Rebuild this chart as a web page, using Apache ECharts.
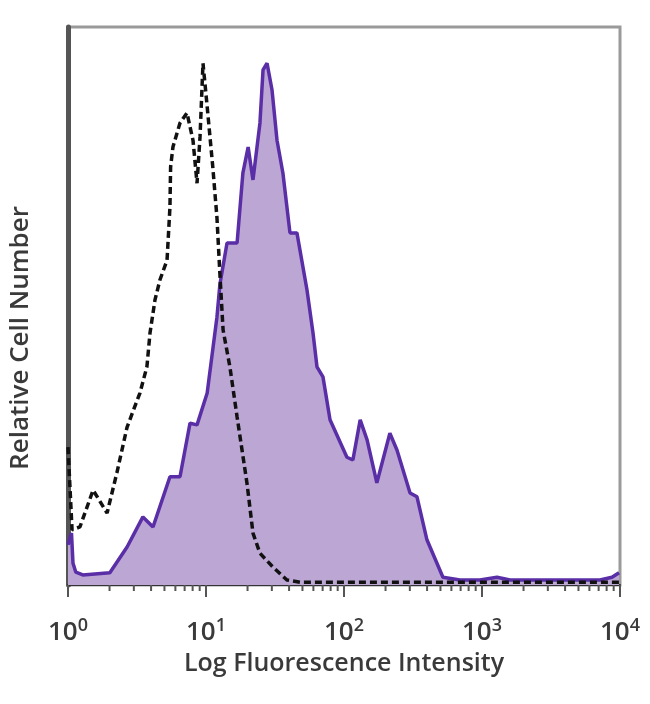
<!DOCTYPE html>
<html>
<head>
<meta charset="utf-8">
<script src="https://cdn.jsdelivr.net/npm/echarts@6/dist/echarts.min.js"></script>
<style>
html,body{margin:0;padding:0;background:#fff;}
#chart{width:650px;height:704px;}
</style>
</head>
<body>
<div id="chart"></div>
<script>
// Stained sample (purple filled histogram): [intensity, relative count]
const stainedX = [1.0, 1.06, 1.087, 1.14, 1.28, 2.01, 2.68, 3.49, 4.13, 5.48, 6.48, 7.66, 8.61, 10.2, 12.0, 12.6, 14.2, 16.8, 18.5, 20.2, 21.9, 24.6, 25.9, 27.7, 30.1, 32.7, 36.1, 40.6, 45.6, 53.9, 59.6, 63.7, 70.4, 79.2, 105, 116, 131, 147, 173, 215, 242, 301, 338, 399, 521, 693, 967, 1284, 1596, 7160, 8750, 9840];
const stainedY = [7.2, 9.3, 3.9, 2.3, 1.8, 2.2, 6.8, 12.2, 10.4, 19.4, 19.4, 29.0, 28.7, 34.4, 48.0, 53.8, 61.3, 61.3, 73.8, 78.5, 72.6, 82.8, 92.3, 93.5, 88.7, 79.7, 73.8, 63.1, 63.1, 52.9, 45.2, 39.1, 37.3, 29.6, 22.9, 22.4, 29.6, 26.0, 18.3, 27.2, 24.2, 16.5, 15.8, 8.1, 1.4, 0.9, 0.9, 1.4, 0.9, 0.9, 1.4, 2.2];
// Isotype control (dashed histogram)
const controlX = [1.0, 1.07, 1.22, 1.52, 1.92, 2.26, 2.68, 3.32, 3.73, 3.93, 4.27, 4.64, 5.22, 5.48, 5.54, 5.76, 6.48, 7.28, 8.05, 8.61, 9.05, 9.51, 10.2, 11.2, 12.0, 12.6, 13.3, 14.9, 16.8, 19.8, 21.9, 24.6, 30.6, 38.6, 48, 10000];
const controlY = [24.7, 9.9, 10.4, 17.0, 12.9, 20.1, 28.3, 34.4, 39.1, 45.2, 51.1, 54.7, 58.2, 67.7, 74.9, 78.5, 82.8, 84.6, 79.7, 72.0, 80.3, 93.5, 85.7, 74.9, 65.9, 55.9, 45.7, 39.1, 30.1, 18.3, 9.3, 5.7, 3.2, 0.9, 0.5, 0.5];
// Axis ticks
const decadeTicks = [1, 10, 100, 1000, 10000];
const minorTickMult = [2, 3, 4, 5, 6, 7, 8, 9];
const xAxisName = 'Log Fluorescence Intensity';
const yAxisName = 'Relative Cell Number';

const minorTicks = [];
for (let d = 0; d < decadeTicks.length - 1; d++) {
  minorTickMult.forEach(m => minorTicks.push([m * decadeTicks[d], 0]));
}
const zip = (xs, ys) => xs.map((x, i) => [x, ys[i]]);
const FONT = '"Open Sans"';

const chart = echarts.init(document.getElementById('chart'), null, {renderer: 'canvas'});
chart.setOption({
  animation: false,
  backgroundColor: '#fff',
  grid: {left: 68, right: 30, top: 27, bottom: 119, show: true, borderColor: '#9a9a9a', borderWidth: 3, backgroundColor: 'transparent'},
  xAxis: {
    type: 'log', logBase: 10, min: 1, max: 10000,
    name: xAxisName, nameLocation: 'middle', nameGap: 66,
    nameTextStyle: {fontFamily: FONT, fontSize: 25, fontWeight: 600, color: '#3a3a3a'},
    axisLine: {show: true, lineStyle: {color: '#333', width: 2}},
    axisTick: {show: true, length: 12, lineStyle: {color: '#555', width: 2}},
    splitLine: {show: false},
    minorTick: {show: false},
    axisLabel: {
      margin: 32,
      formatter: v => '{b|10}{s|' + Math.round(Math.log10(v)) + '}',
      rich: {
        b: {fontFamily: FONT, fontSize: 26, fontWeight: 600, color: '#3a3a3a'},
        s: {fontFamily: FONT, fontSize: 18, fontWeight: 600, color: '#3a3a3a', padding: [0, 0, 13, 0]}
      }
    }
  },
  yAxis: {
    type: 'value', min: 0, max: 100,
    name: yAxisName, nameLocation: 'middle', nameGap: 34, nameRotate: 90,
    nameTextStyle: {fontFamily: FONT, fontSize: 26, fontWeight: 600, color: '#3a3a3a', padding: [0, 64, 0, 0]},
    axisLine: {show: true, lineStyle: {color: '#555', width: 5}},
    axisTick: {show: false}, axisLabel: {show: false}, splitLine: {show: false}
  },
  series: [
    {
      type: 'line', data: zip(stainedX, stainedY), showSymbol: false, symbol: 'none',
      lineStyle: {color: '#5a2ea6', width: 3.5}, areaStyle: {color: '#bca6d4', opacity: 1}, z: 2
    },
    {
      type: 'line', data: zip(controlX, controlY), showSymbol: false, symbol: 'none',
      lineStyle: {color: '#111', width: 3.5, type: [7, 4]}, z: 3
    },
    {
      type: 'custom', data: minorTicks, clip: false, silent: true, z: 5,
      renderItem: (params, api) => {
        const p = api.coord([api.value(0), 0]);
        return {type: 'line', shape: {x1: p[0], y1: p[1], x2: p[0], y2: p[1] + 6}, style: {stroke: '#555', lineWidth: 2}};
      }
    }
  ]
});
</script>
</body>
</html>
